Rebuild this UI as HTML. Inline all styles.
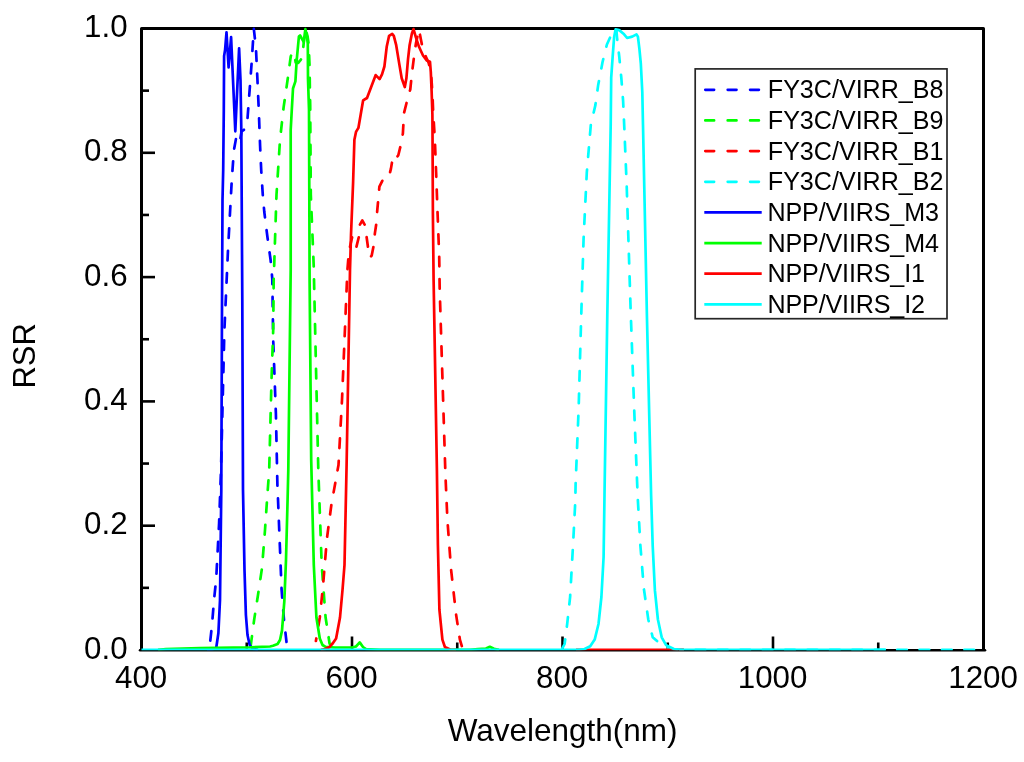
<!DOCTYPE html>
<html lang="en">
<head>
<meta charset="utf-8">
<title>Relative spectral response: FY3C/VIRR vs NPP/VIIRS</title>
<style>
  html, body { margin: 0; padding: 0; background: #ffffff; }
  body { width: 1024px; height: 762px; overflow: hidden; }
  svg { display: block; }
  text { font-family: "Liberation Sans", sans-serif; fill: #000000; }
  .tick { font-size: 31.3px; }
  .title { font-size: 31.5px; }
  .leg { font-size: 25.1px; }
</style>
</head>
<body>
<svg width="1024" height="762" viewBox="0 0 1024 762">
<rect x="0" y="0" width="1024" height="762" fill="#ffffff"/>
<defs>
  <clipPath id="plotclip"><rect x="140" y="27" width="845" height="623.3"/></clipPath>
</defs>

<path d="M141.5,650.2 L141.5,28.5 L983.5,28.5 L983.5,650.2" fill="none" stroke="#000" stroke-width="3" stroke-linejoin="round" stroke-linecap="butt"/>
<path d="M140.0,650.25 L985.0,650.25" fill="none" stroke="#000" stroke-width="2.5" stroke-linecap="round"/>
<g stroke="#000" stroke-width="2.6" stroke-linecap="butt">
<line x1="141.5" y1="587.85" x2="149.0" y2="587.85"/>
<line x1="141.5" y1="525.70" x2="155.0" y2="525.70"/>
<line x1="141.5" y1="463.55" x2="149.0" y2="463.55"/>
<line x1="141.5" y1="401.40" x2="155.0" y2="401.40"/>
<line x1="141.5" y1="339.25" x2="149.0" y2="339.25"/>
<line x1="141.5" y1="277.10" x2="155.0" y2="277.10"/>
<line x1="141.5" y1="214.95" x2="149.0" y2="214.95"/>
<line x1="141.5" y1="152.80" x2="155.0" y2="152.80"/>
<line x1="141.5" y1="90.65" x2="149.0" y2="90.65"/>
<line x1="246.75" y1="650.0" x2="246.75" y2="642.5"/>
<line x1="352.00" y1="650.0" x2="352.00" y2="636.5"/>
<line x1="457.25" y1="650.0" x2="457.25" y2="642.5"/>
<line x1="562.50" y1="650.0" x2="562.50" y2="636.5"/>
<line x1="667.75" y1="650.0" x2="667.75" y2="642.5"/>
<line x1="773.00" y1="650.0" x2="773.00" y2="636.5"/>
<line x1="878.25" y1="650.0" x2="878.25" y2="642.5"/>
</g>
<g fill="none" stroke-width="2.7" stroke-linejoin="round" clip-path="url(#plotclip)">
<path d="M208.0,649.8 L209.5,648.0 L212.0,625.0 L214.0,600.0 L216.2,579.0 L219.1,523.0 L221.0,470.0 L224.4,330.0 L228.0,250.0 L231.8,179.7 L233.9,150.3 L236.0,138.7 L239.5,144.0 L241.6,131.3 L245.4,128.8 L247.5,118.7 L250.0,85.1 L251.7,62.0 L253.8,28.8 L255.9,47.3 L257.4,78.8 L258.7,108.2 L260.1,146.0 L261.2,170.0 L262.8,195.0 L264.3,212.0 L267.3,236.0 L270.6,260.0 L272.3,279.0 L273.2,340.0 L275.9,414.0 L277.4,485.0 L278.0,499.0 L281.6,590.0 L284.0,620.0 L286.5,642.0" stroke="#0000ff" stroke-dasharray="9.6 12.8" stroke-dashoffset="12.66" stroke-linecap="round"/>
<path d="M250.4,648.0 L254.2,619.5 L258.0,595.0 L262.0,568.0 L265.0,530.0 L267.1,499.0 L269.2,470.0 L271.5,380.0 L273.2,330.0 L273.7,280.0 L276.5,194.6 L280.0,140.0 L283.6,107.4 L287.7,79.0 L290.7,56.6 L292.3,52.0 L294.2,53.7 L295.7,62.5 L298.0,63.0 L300.9,59.6 L302.5,55.4 L304.0,40.0 L305.5,29.0 L307.5,36.0 L308.6,43.6 L309.6,67.0 L309.9,90.9 L310.2,105.0 L310.8,194.6 L313.7,265.5 L318.3,470.0 L321.7,565.0 L325.6,617.5 L329.6,643.7" stroke="#00ff00" stroke-dasharray="9.6 12.8" stroke-dashoffset="19.99" stroke-linecap="round"/>
<path d="M315.9,641.0 L319.8,617.5 L323.0,586.0 L326.9,538.7 L331.4,504.6 L338.5,465.0 L342.0,400.0 L344.5,340.0 L347.4,270.0 L348.9,251.8 L351.5,240.0 L352.3,236.5 L353.8,244.0 L356.4,246.9 L358.8,237.2 L359.8,224.8 L362.3,220.4 L365.0,225.3 L366.7,237.7 L368.0,247.3 L369.8,257.5 L371.7,255.6 L373.5,246.4 L374.9,233.1 L376.3,223.9 L377.2,211.0 L378.1,201.4 L379.4,186.7 L382.5,180.4 L388.8,177.3 L390.9,168.9 L393.0,156.3 L396.2,158.4 L398.3,155.2 L401.4,142.6 L402.9,133.2 L404.0,113.0 L408.0,97.2 L410.3,89.3 L411.9,73.6 L414.3,54.7 L415.9,43.6 L419.0,29.5 L421.0,40.0 L423.0,50.0 L426.0,57.0 L428.5,62.5 L431.0,72.0 L432.5,95.0 L433.2,113.0 L434.8,138.2 L436.1,172.0 L437.6,214.0 L439.2,256.0 L439.7,289.7 L445.4,474.0 L447.4,519.9 L451.1,569.8 L456.1,614.6 L459.9,639.6 L462.3,647.6" stroke="#ff0000" stroke-dasharray="9.6 12.8" stroke-dashoffset="7.05" stroke-linecap="round"/>
<path d="M555.0,649.8 L562.0,649.0 L564.6,644.0 L567.2,623.9 L570.1,597.1 L573.0,545.8 L575.3,501.2 L575.6,484.4 L578.6,409.7 L581.1,320.0 L583.6,238.2 L586.8,172.5 L590.8,125.0 L595.4,105.1 L598.2,84.9 L602.6,61.8 L606.9,44.5 L610.5,36.6 L614.5,30.0 L616.3,28.7 L617.0,37.3 L619.2,56.1 L621.3,77.7 L623.1,100.8 L624.2,125.3 L626.7,185.7 L628.8,251.3 L630.6,309.0 L634.2,409.7 L637.2,484.4 L637.8,498.9 L640.4,545.8 L643.8,588.2 L648.3,619.5 L652.7,637.3 L661.6,645.0 L670.0,649.0 L680.0,649.8" stroke="#00ffff" stroke-dasharray="9.6 12.8" stroke-dashoffset="14.7" stroke-linecap="round"/>
<path d="M680.0,649.8 L977.5,649.8" stroke="#00ffff" stroke-dasharray="9.6 12.8" stroke-dashoffset="6.8" stroke-linecap="round"/>
<path d="M207.0,649.8 L212.0,649.5 L216.2,648.0 L218.4,633.0 L220.0,600.0 L221.3,490.0 L221.9,330.0 L222.5,200.0 L223.2,170.0 L223.8,110.0 L224.1,56.0 L225.1,49.6 L226.5,32.3 L228.6,67.3 L231.1,37.2 L235.3,131.3 L239.1,48.4 L240.5,80.0 L241.3,130.0 L242.3,300.0 L243.0,490.0 L244.5,570.0 L245.9,615.0 L247.5,635.0 L249.7,645.0 L253.0,649.0 L258.0,649.8" stroke="#0000ff"/>
<path d="M158.0,649.8 L166.0,649.0 L200.0,648.0 L250.0,647.3 L270.0,646.5 L273.0,645.8 L277.6,644.0 L280.0,640.0 L282.0,630.6 L284.3,601.6 L286.0,560.0 L287.6,499.0 L288.3,470.0 L290.7,270.0 L290.7,130.0 L291.8,109.8 L293.0,88.5 L295.4,81.4 L296.6,61.3 L298.9,36.5 L300.1,35.4 L301.5,38.0 L303.7,41.8 L305.4,29.2 L306.8,36.0 L307.8,43.6 L308.0,79.0 L309.0,109.8 L309.6,280.0 L311.2,460.0 L313.8,565.0 L316.4,617.5 L319.8,638.5 L322.5,645.0 L325.6,646.9 L335.0,647.5 L352.0,647.5 L356.0,646.5 L359.7,642.4 L363.0,647.0 L366.0,649.0 L380.0,649.8 L470.0,649.8 L478.0,649.0 L486.0,648.5 L489.8,646.8 L494.0,648.8 L499.0,649.8" stroke="#00ff00"/>
<path d="M321.0,649.8 L325.0,649.0 L329.6,646.9 L333.0,643.0 L336.1,638.5 L340.0,617.5 L342.5,590.0 L344.5,565.0 L346.6,465.0 L350.0,270.0 L351.0,235.0 L353.1,182.5 L354.4,139.7 L356.0,131.9 L358.4,127.9 L360.7,114.5 L363.1,100.4 L367.0,98.0 L375.7,75.1 L379.6,79.1 L382.0,74.4 L384.4,66.5 L386.7,46.8 L389.1,35.8 L392.2,33.9 L393.8,35.8 L396.2,45.2 L399.3,64.1 L401.7,78.3 L404.8,87.0 L406.4,78.3 L408.0,59.4 L409.6,45.2 L411.9,33.4 L413.5,29.1 L415.9,37.3 L419.0,46.8 L423.0,55.5 L426.9,60.6 L430.0,61.8 L430.8,72.0 L431.6,90.9 L432.4,114.5 L432.5,130.0 L432.9,214.0 L433.6,280.0 L436.9,470.0 L437.9,544.8 L439.4,609.7 L442.4,639.6 L444.9,647.0 L450.0,649.5 L456.0,649.8" stroke="#ff0000"/>
<path d="M576.0,649.8 L684.0,649.8" stroke="#ff0000"/>
<path d="M141.5,649.8 L578.0,649.8 L584.6,649.0 L590.2,646.3 L594.7,639.6 L598.5,624.0 L601.4,597.0 L603.6,557.0 L604.5,495.0 L607.3,315.0 L610.7,125.0 L611.2,77.7 L612.7,56.1 L614.1,37.3 L615.6,29.4 L619.2,30.1 L623.5,33.7 L627.1,38.0 L632.2,36.6 L636.5,34.4 L637.9,36.6 L639.4,48.9 L640.8,63.3 L642.3,92.2 L643.0,125.0 L646.9,315.0 L651.1,495.0 L652.7,545.8 L654.9,590.4 L657.9,619.5 L661.7,637.3 L666.1,645.1 L673.9,649.0 L682.0,649.8 L886.0,649.8" stroke="#00ffff"/>
</g>
<g class="tick" text-anchor="end">
<text x="127.6" y="658.6">0.0</text>
<text x="127.6" y="534.3">0.2</text>
<text x="127.6" y="410.0">0.4</text>
<text x="127.6" y="285.7">0.6</text>
<text x="127.6" y="161.4">0.8</text>
<text x="127.6" y="37.1">1.0</text>
</g>
<g class="tick" text-anchor="middle">
<text x="141.1" y="688.3">400</text>
<text x="351.6" y="688.3">600</text>
<text x="562.1" y="688.3">800</text>
<text x="772.6" y="688.3">1000</text>
<text x="983.1" y="688.3">1200</text>
</g>
<text class="title" text-anchor="middle" x="562.6" y="740.5">Wavelength(nm)</text>
<text class="title" style="font-size:31px" text-anchor="middle" transform="translate(35.3 355.9) rotate(-90)">RSR</text>
<rect x="695.2" y="68.9" width="251.79999999999995" height="249.79999999999998" fill="#ffffff" stroke="#262626" stroke-width="1.7"/>
<g fill="none" stroke-width="2.7">
<path d="M705.3,89.8 L759,89.8" stroke="#0000ff" stroke-dasharray="8.8 13.6" stroke-linecap="round"/>
<path d="M705.3,120.4 L759,120.4" stroke="#00ff00" stroke-dasharray="8.8 13.6" stroke-linecap="round"/>
<path d="M705.3,151.1 L759,151.1" stroke="#ff0000" stroke-dasharray="8.8 13.6" stroke-linecap="round"/>
<path d="M705.3,181.8 L759,181.8" stroke="#00ffff" stroke-dasharray="8.8 13.6" stroke-linecap="round"/>
<path d="M704.3,212.4 L761.7,212.4" stroke="#0000ff"/>
<path d="M704.3,243.1 L761.7,243.1" stroke="#00ff00"/>
<path d="M704.3,273.7 L761.7,273.7" stroke="#ff0000"/>
<path d="M704.3,304.3 L761.7,304.3" stroke="#00ffff"/>
</g>
<g class="leg">
<text x="767.8" y="98.3">FY3C/VIRR_B8</text>
<text x="767.8" y="128.9">FY3C/VIRR_B9</text>
<text x="767.8" y="159.6">FY3C/VIRR_B1</text>
<text x="767.8" y="190.2">FY3C/VIRR_B2</text>
<text x="767.5" y="220.9" letter-spacing="-0.14">NPP/VIIRS_M3</text>
<text x="767.5" y="251.6" letter-spacing="-0.14">NPP/VIIRS_M4</text>
<text x="767.5" y="282.2" letter-spacing="-0.14">NPP/VIIRS_I1</text>
<text x="767.5" y="312.8" letter-spacing="-0.14">NPP/VIIRS_I2</text>
</g>
</svg>
</body>
</html>
